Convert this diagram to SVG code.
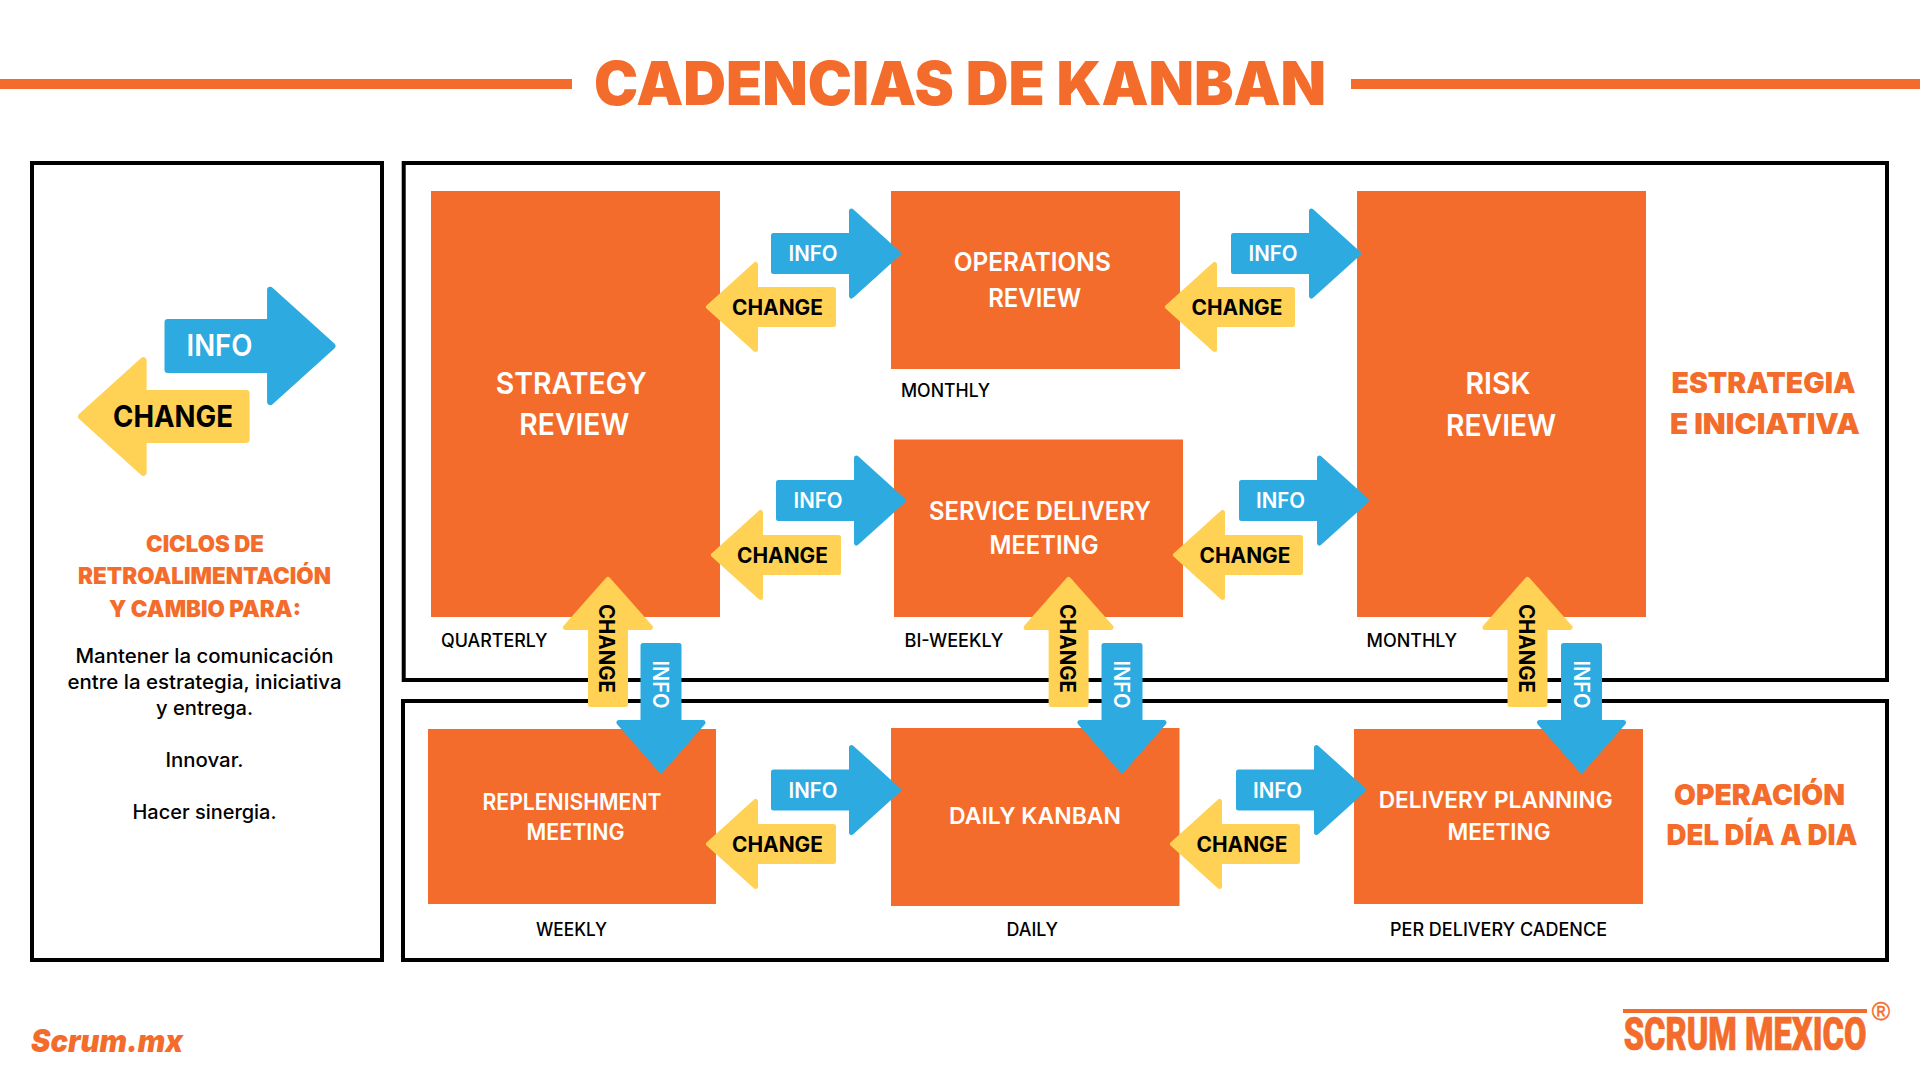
<svg xmlns="http://www.w3.org/2000/svg" xmlns:xlink="http://www.w3.org/1999/xlink" width="1920" height="1080" viewBox="0 0 1920 1080">
<style>
text{font-family:"Inter","Noto Sans","Liberation Sans",sans-serif;text-anchor:middle}
.panel{fill:none;stroke:#000;stroke-width:4}
.box{fill:#F46C2B}
.ai{fill:#2DABE1;stroke:#2DABE1;stroke-width:5;stroke-linejoin:round}
.ac{fill:#FFD255;stroke:#FFD255;stroke-width:5;stroke-linejoin:round}
.ti{fill:#fff;font-size:21px;font-weight:600}
.tc{fill:#000;font-size:21px;font-weight:700}
.big{font-size:30px}
.n1{fill:#fff;font-size:30px;font-weight:600}
.n2{fill:#fff;font-size:25px;font-weight:600}
.n3{fill:#fff;font-size:23.5px;font-weight:600}
.lab{fill:#000;font-size:18px;font-weight:500;text-anchor:start}
.or{fill:#F46C2B;font-weight:900}
.r{font-size:29px}
.h{font-size:22.5px}
.b{fill:#000;font-size:19.5px;font-weight:500}
</style>
<defs>
<path id="ai" class="ai" d="M2.5,-18H80.5V-42.5L127.5,0L80.5,42.5V18H2.5Z"/>
<path id="ac" class="ac" d="M2.5,0L49.5,-42.5V-17.5H127.5V17.5H49.5V42.5Z"/>
<path id="vc" class="ac" d="M0,2.5L42.5,50.5H17.5V127.5H-17.5V50.5H-42.5Z"/>
<path id="vi" class="ai" d="M-18,2.5H18V79.5H42L0,127.5L-42,79.5H-18Z"/>
</defs>
<rect width="1920" height="1080" fill="#fff"/>
<g id="title">
<rect class="box" x="0" y="79" width="572" height="10"/>
<rect class="box" x="1351" y="79" width="569" height="10"/>
<text class="or" x="960" y="105" font-size="60" textLength="732" lengthAdjust="spacingAndGlyphs">CADENCIAS DE KANBAN</text>
</g>
<g id="panels">
<rect class="panel" x="32" y="163" width="350" height="797"/>
<rect class="panel" x="403.7" y="163" width="1483.3" height="517"/>
<rect class="panel" x="403" y="701" width="1484" height="259"/>
</g>
<g id="strategy-review"><rect class="box" x="431" y="191" width="289" height="426"/>
<text class="n1" x="571.2" y="394" textLength="151" lengthAdjust="spacingAndGlyphs">STRATEGY</text>
<text class="n1" x="574.3" y="435" textLength="110" lengthAdjust="spacingAndGlyphs">REVIEW</text>
<text class="lab" x="441" y="647" textLength="106.5" lengthAdjust="spacingAndGlyphs">QUARTERLY</text></g>
<g id="operations-review"><rect class="box" x="891" y="191" width="289" height="178"/>
<text class="n2" x="1032.3" y="271" textLength="157" lengthAdjust="spacingAndGlyphs">OPERATIONS</text>
<text class="n2" x="1034.7" y="306.5" textLength="93" lengthAdjust="spacingAndGlyphs">REVIEW</text>
<text class="lab" x="901" y="397" textLength="89" lengthAdjust="spacingAndGlyphs">MONTHLY</text></g>
<g id="risk-review"><rect class="box" x="1357" y="191" width="289" height="426"/>
<text class="n1" x="1498" y="394" textLength="65" lengthAdjust="spacingAndGlyphs">RISK</text>
<text class="n1" x="1501" y="436" textLength="110" lengthAdjust="spacingAndGlyphs">REVIEW</text>
<text class="lab" x="1366.5" y="647" textLength="90.6" lengthAdjust="spacingAndGlyphs">MONTHLY</text></g>
<g id="service-delivery-meeting"><rect class="box" x="894" y="439.5" width="289" height="177.5"/>
<text class="n2" x="1040" y="519.6" textLength="222" lengthAdjust="spacingAndGlyphs">SERVICE DELIVERY</text>
<text class="n2" x="1044" y="554" textLength="109" lengthAdjust="spacingAndGlyphs">MEETING</text>
<text class="lab" x="904.5" y="647" textLength="99" lengthAdjust="spacingAndGlyphs">BI-WEEKLY</text></g>
<g id="replenishment-meeting"><rect class="box" x="428" y="729" width="288" height="175"/>
<text class="n3" x="572" y="809.5" textLength="179" lengthAdjust="spacingAndGlyphs">REPLENISHMENT</text>
<text class="n3" x="575.5" y="840" textLength="98" lengthAdjust="spacingAndGlyphs">MEETING</text>
<text class="lab" x="536" y="936" textLength="71" lengthAdjust="spacingAndGlyphs">WEEKLY</text></g>
<g id="daily-kanban"><rect class="box" x="891" y="728" width="288.5" height="178"/>
<text class="n3" x="1035" y="824" textLength="172" lengthAdjust="spacingAndGlyphs">DAILY KANBAN</text>
<text class="lab" x="1006.5" y="936" textLength="51.5" lengthAdjust="spacingAndGlyphs">DAILY</text></g>
<g id="delivery-planning-meeting"><rect class="box" x="1354" y="729" width="289" height="175"/>
<text class="n3" x="1495.7" y="808" textLength="234" lengthAdjust="spacingAndGlyphs">DELIVERY PLANNING</text>
<text class="n3" x="1499" y="840" textLength="103" lengthAdjust="spacingAndGlyphs">MEETING</text>
<text class="lab" x="1390" y="936" textLength="217" lengthAdjust="spacingAndGlyphs">PER DELIVERY CADENCE</text></g>
<g id="side-labels">
<text class="or r" x="1763.5" y="393" textLength="184" lengthAdjust="spacingAndGlyphs">ESTRATEGIA</text>
<text class="or r" x="1765" y="434" textLength="190" lengthAdjust="spacingAndGlyphs">E INICIATIVA</text>
<text class="or r" x="1759.5" y="805" textLength="171" lengthAdjust="spacingAndGlyphs">OPERACIÓN</text>
<text class="or r" x="1762" y="845" textLength="191" lengthAdjust="spacingAndGlyphs">DEL DÍA A DIA</text>
</g>
<g id="legend-text">
<text class="or h" x="205" y="552" textLength="118" lengthAdjust="spacingAndGlyphs">CICLOS DE</text>
<text class="or h" x="204.5" y="584" textLength="253" lengthAdjust="spacingAndGlyphs">RETROALIMENTACIÓN</text>
<text class="or h" x="205" y="617" textLength="192" lengthAdjust="spacingAndGlyphs">Y CAMBIO PARA:</text>
<text class="b" x="204.5" y="663" textLength="258" lengthAdjust="spacingAndGlyphs">Mantener la comunicación</text>
<text class="b" x="204.5" y="689" textLength="274" lengthAdjust="spacingAndGlyphs">entre la estrategia, iniciativa</text>
<text class="b" x="204.5" y="715" textLength="97" lengthAdjust="spacingAndGlyphs">y entrega.</text>
<text class="b" x="204.5" y="767" textLength="78" lengthAdjust="spacingAndGlyphs">Innovar.</text>
<text class="b" x="204.5" y="819" textLength="144" lengthAdjust="spacingAndGlyphs">Hacer sinergia.</text>
</g>
<g id="connectors">
<g transform="translate(164.5,346) scale(1.315)"><use href="#ai" xlink:href="#ai"/></g>
<text class="ti big" x="219.5" y="356" textLength="66" lengthAdjust="spacingAndGlyphs">INFO</text>
<g transform="translate(78,416.5) scale(1.32)"><use href="#ac" xlink:href="#ac"/></g>
<text class="tc big" x="173" y="427" textLength="120" lengthAdjust="spacingAndGlyphs">CHANGE</text>

<g transform="translate(771,253.5)"><use href="#ai" xlink:href="#ai"/><text class="ti" x="42" y="7.5" textLength="49" lengthAdjust="spacingAndGlyphs">INFO</text></g>
<g transform="translate(706,307)"><use href="#ac" xlink:href="#ac"/><text class="tc" x="71.5" y="8" textLength="91" lengthAdjust="spacingAndGlyphs">CHANGE</text></g>
<g transform="translate(1231,253.5)"><use href="#ai" xlink:href="#ai"/><text class="ti" x="42" y="7.5" textLength="49" lengthAdjust="spacingAndGlyphs">INFO</text></g>
<g transform="translate(1165,307)"><use href="#ac" xlink:href="#ac"/><text class="tc" x="72" y="8" textLength="91" lengthAdjust="spacingAndGlyphs">CHANGE</text></g>
<g transform="translate(776,500.5)"><use href="#ai" xlink:href="#ai"/><text class="ti" x="42" y="7.5" textLength="49" lengthAdjust="spacingAndGlyphs">INFO</text></g>
<g transform="translate(711,555)"><use href="#ac" xlink:href="#ac"/><text class="tc" x="71.5" y="8" textLength="91" lengthAdjust="spacingAndGlyphs">CHANGE</text></g>
<g transform="translate(1239,500.5)"><use href="#ai" xlink:href="#ai"/><text class="ti" x="41.5" y="7.5" textLength="49" lengthAdjust="spacingAndGlyphs">INFO</text></g>
<g transform="translate(1173,555)"><use href="#ac" xlink:href="#ac"/><text class="tc" x="72" y="8" textLength="91" lengthAdjust="spacingAndGlyphs">CHANGE</text></g>
<g transform="translate(771,790)"><use href="#ai" xlink:href="#ai"/><text class="ti" x="42" y="7.5" textLength="49" lengthAdjust="spacingAndGlyphs">INFO</text></g>
<g transform="translate(706,844)"><use href="#ac" xlink:href="#ac"/><text class="tc" x="71.5" y="8" textLength="91" lengthAdjust="spacingAndGlyphs">CHANGE</text></g>
<g transform="translate(1236,790)"><use href="#ai" xlink:href="#ai"/><text class="ti" x="41.5" y="7.5" textLength="49" lengthAdjust="spacingAndGlyphs">INFO</text></g>
<g transform="translate(1170,844)"><use href="#ac" xlink:href="#ac"/><text class="tc" x="72" y="8" textLength="91" lengthAdjust="spacingAndGlyphs">CHANGE</text></g>

<g transform="translate(608,577)"><use href="#vc" xlink:href="#vc"/><text class="tc" transform="translate(-9,71.5) rotate(90)" textLength="89" lengthAdjust="spacingAndGlyphs">CHANGE</text></g>
<g transform="translate(661,643)"><use href="#vi" xlink:href="#vi"/><text class="ti" transform="translate(-8,41.5) rotate(90)" textLength="48" lengthAdjust="spacingAndGlyphs">INFO</text></g>
<g transform="translate(1068.6,577)"><use href="#vc" xlink:href="#vc"/><text class="tc" transform="translate(-9,71.5) rotate(90)" textLength="89" lengthAdjust="spacingAndGlyphs">CHANGE</text></g>
<g transform="translate(1122,643)"><use href="#vi" xlink:href="#vi"/><text class="ti" transform="translate(-8,41.5) rotate(90)" textLength="48" lengthAdjust="spacingAndGlyphs">INFO</text></g>
<g transform="translate(1527.5,577)"><use href="#vc" xlink:href="#vc"/><text class="tc" transform="translate(-9,71.5) rotate(90)" textLength="89" lengthAdjust="spacingAndGlyphs">CHANGE</text></g>
<g transform="translate(1581.5,643)"><use href="#vi" xlink:href="#vi"/><text class="ti" transform="translate(-8,41.5) rotate(90)" textLength="48" lengthAdjust="spacingAndGlyphs">INFO</text></g>
</g>
<g id="footer">
<text class="or" x="107" y="1052" font-size="31" font-style="italic" font-weight="800" textLength="152" lengthAdjust="spacingAndGlyphs">Scrum.mx</text>
<rect class="box" x="1623" y="1009" width="244" height="4"/>
<text transform="translate(1745,1050) scale(0.68,1)" font-size="46" font-weight="900" fill="#F46C2B" stroke="#F46C2B" stroke-width="0.7" style="font-family:'Roboto',sans-serif" textLength="357" lengthAdjust="spacingAndGlyphs">SCRUM MEXICO</text>
<text x="1881" y="1020" font-size="25" fill="#F46C2B" stroke="#F46C2B" stroke-width="0.4" style="font-family:'Liberation Sans',sans-serif">®</text>
</g>
</svg>
